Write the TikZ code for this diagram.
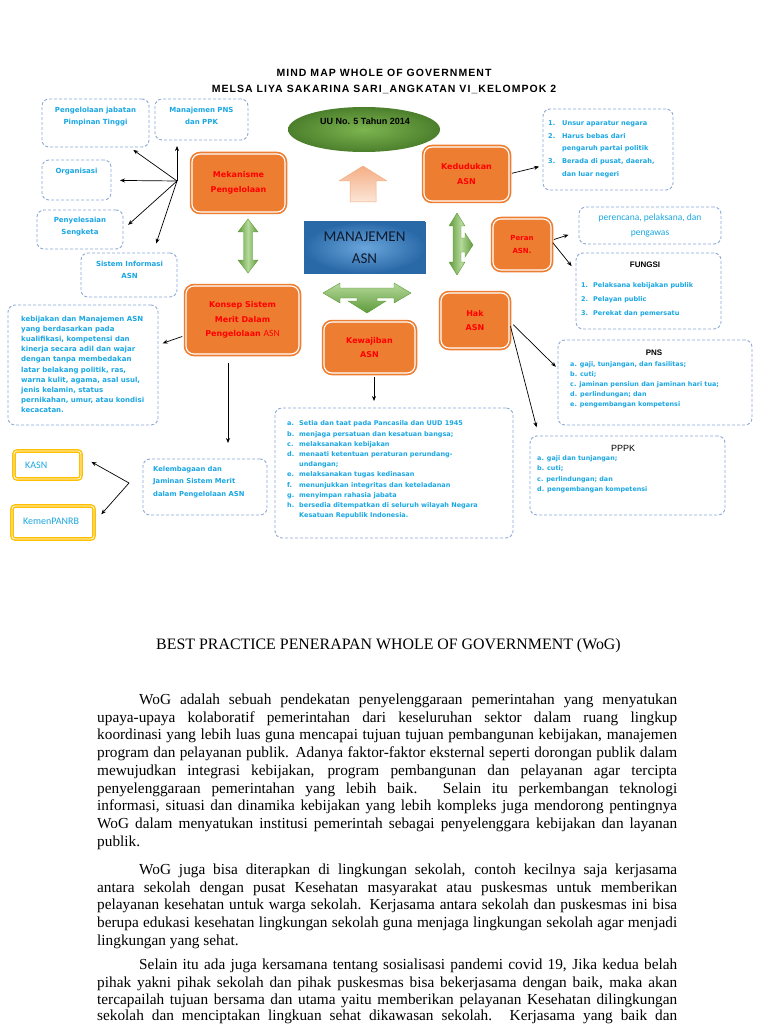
\documentclass[tikz,border=0pt]{standalone}
\usepackage{fontspec}
\setmainfont{Liberation Serif}
\newfontfamily\djv{DejaVu Sans}
\newfontfamily\ars{Liberation Sans}
\newfontfamily\ttlf[LetterSpace=10]{Liberation Sans}
\newfontfamily\calb{Carlito}
\usetikzlibrary{arrows.meta,calc,shapes.geometric}
\definecolor{cyanT}{HTML}{1AA7E3}
\definecolor{dashB}{HTML}{8EA9D8}
\definecolor{orF}{HTML}{ED7D31}
\definecolor{grOut}{HTML}{4C7F2C}
\definecolor{grIn}{HTML}{7DB550}
\definecolor{blOut}{HTML}{2A69A8}
\definecolor{blIn}{HTML}{6AA6DC}
\definecolor{navyT}{HTML}{0F1A2E}
\definecolor{garD}{HTML}{5E9A3A}
\definecolor{garL}{HTML}{B5D99A}
\definecolor{peachT}{HTML}{F4AE84}
\definecolor{peachB}{HTML}{FCE6D8}
\definecolor{yelB}{HTML}{FFC000}
\newcommand\jl[2][580pt]{\makebox[#1][s]{#2}}
\begin{document}
\begin{tikzpicture}[x=1pt,y=-1pt,
  dbox/.style={draw=dashB, dash pattern=on 3pt off 2pt, line width=0.9pt, rounded corners=7pt, fill=white, inner sep=0pt, outer sep=0pt},
  obox/.style={draw=orF, double=white, double distance=1.1pt, line width=1.7pt, fill=orF, rounded corners=8pt, inner sep=0pt, outer sep=0pt, text=red, align=center, font=\djv\bfseries\fontsize{8}{14.5}\selectfont},
  ybox/.style={draw=yelB, double=white, double distance=0.8pt, line width=1.4pt, rounded corners=3pt, fill=white, inner sep=0pt, outer sep=0pt},
  ctxt/.style={text=cyanT, align=center, inner sep=0pt, font=\djv\bfseries\fontsize{7}{12}\selectfont},
  ltxt/.style={text=cyanT, align=left, inner sep=0pt, anchor=north west},
  htxt/.style={text=black, inner sep=0pt, font=\ars\bfseries\fontsize{8}{10}\selectfont},
  conn/.style={-{Stealth[length=5pt,width=4pt]}, line width=0.7pt, black},
  gar/.style={draw=garD, line width=0.4pt, left color=garD, right color=garD, middle color=garL},
  body/.style={anchor=base west, inner sep=0pt, font=\fontsize{15.3}{17.7}\selectfont}
]
\useasboundingbox (0,0) rectangle (768,1024);
\fill[white] (0,0) rectangle (768,1024);

% ---------- titles
\node[inner sep=0pt, font=\ttlf\bfseries\fontsize{10.5}{12}\selectfont] (t1) at (384,73) {MIND MAP WHOLE OF GOVERNMENT};
\node[inner sep=0pt, font=\ttlf\bfseries\fontsize{10.5}{12}\selectfont] (t2) at (384,89) {MELSA LIYA SAKARINA SARI\_ANGKATAN VI\_KELOMPOK 2};

% ---------- centre
\node[ellipse, minimum width=152, minimum height=45, inner sep=0pt, inner color=grIn, outer color=grOut] (uu) at (364,129.5) {};
\node[htxt, font=\ars\bfseries\fontsize{9}{11}\selectfont] (uut) at (365,121) {UU No. 5 Tahun 2014};
\node[rectangle, minimum width=121, minimum height=51, inner sep=0pt, draw=blOut, line width=0.5pt, inner color=blIn, outer color=blOut, text=navyT, align=center, font=\calb\fontsize{15}{22}\selectfont] (man) at (364.5,247.5) {MANAJEMEN\\ASN};

% block arrows
\path[draw=peachT, line width=0.5pt, top color=peachT, bottom color=peachB]
  (363,166) -- (387,181) -- (376,181) -- (376,202) -- (350,202) -- (350,181) -- (339,181) -- cycle;
\path[gar] (248,219) -- (258,232) -- (252.5,232) -- (252.5,260) -- (258,260) -- (248,273) -- (238,260) -- (243.5,260) -- (243.5,232) -- (238,232) -- cycle;
\path[gar] (457,213) -- (465,226) -- (461,226) -- (461,238) -- (465,238) -- (465,233) -- (473,245) -- (465,257) -- (465,252) -- (461,252) -- (461,262) -- (465,262) -- (457,275) -- (449,262) -- (453,262) -- (453,226) -- (449,226) -- cycle;
\path[draw=garD, line width=0.4pt, top color=garL, bottom color=garD]
  (323,293) -- (340,283) -- (340,288) -- (394,288) -- (394,283) -- (411,293) -- (394,303) -- (394,298) -- (377,298) -- (377,301) -- (386,301) -- (367,313) -- (348,301) -- (357,301) -- (357,298) -- (340,298) -- (340,303) -- cycle;

% ---------- orange boxes
\node[obox, minimum width=93, minimum height=58] (mek) at (238.5,183) {Mekanisme\\Pengelolaan};
\node[obox, minimum width=85, minimum height=54] (ked) at (466.5,174) {Kedudukan\\ASN};
\node[obox, minimum width=58, minimum height=51, font=\djv\bfseries\fontsize{7}{13}\selectfont] (peran) at (522,244.5) {Peran\\ASN.};
\node[obox, minimum width=113, minimum height=68] (kon) at (242.5,320) {Konsep Sistem\\Merit Dalam\\Pengelolaan {\calb\mdseries\fontsize{9.5}{14.5}\selectfont ASN}};
\node[obox, minimum width=91, minimum height=51] (kew) at (369.5,347.5) {Kewajiban\\ASN};
\node[obox, minimum width=68, minimum height=55] (hak) at (475,320.5) {Hak\\ASN};

% ---------- left dashed boxes
\node[dbox, minimum width=107, minimum height=48] (b1) at (95.5,123) {};
\node[ctxt] (b1t) at (95.5,117) {Pengelolaan jabatan\\Pimpinan Tinggi};
\node[dbox, minimum width=93, minimum height=41] (b2) at (201.5,119.5) {};
\node[ctxt] (b2t) at (201.5,116) {Manajemen PNS\\dan PPK};
\node[dbox, minimum width=69, minimum height=40] (org) at (76.5,180) {};
\node[ctxt] (orgt) at (76.5,172) {Organisasi};
\node[dbox, minimum width=86, minimum height=39] (peny) at (80,229.5) {};
\node[ctxt] (penyt) at (80,227) {Penyelesaian\\Sengketa};
\node[dbox, minimum width=96, minimum height=44] (sis) at (129,275) {};
\node[ctxt] (sist) at (129.5,269.5) {Sistem Informasi\\ASN};

\node[dbox, minimum width=150, minimum height=120] (merit) at (83,365) {};
\node[ltxt, font=\djv\bfseries\fontsize{7}{10.2}\selectfont] (meritt) at (21,315.5) {kebijakan dan Manajemen ASN\\yang berdasarkan pada\\kualifikasi, kompetensi dan\\kinerja secara adil dan wajar\\dengan tanpa membedakan\\latar belakang politik, ras,\\warna kulit, agama, asal usul,\\jenis kelamin, status\\pernikahan, umur, atau kondisi\\kecacatan.};

\node[dbox, minimum width=124, minimum height=56] (kel) at (205,487) {};
\node[ltxt, font=\djv\bfseries\fontsize{6.8}{12.5}\selectfont] (kelt) at (153,466) {Kelembagaan dan\\Jaminan Sistem Merit\\dalam Pengelolaan ASN};

\node[ybox, minimum width=67, minimum height=28] (kasn) at (47.5,465) {};
\node[inner sep=0pt, anchor=west, text=cyanT, font=\calb\fontsize{10}{12}\selectfont] (kasnt) at (25,465) {KASN};
\node[ybox, minimum width=82, minimum height=33] (kemen) at (53,522.5) {};
\node[inner sep=0pt, anchor=west, text=cyanT, font=\calb\fontsize{10}{12}\selectfont] (kement) at (23,521) {KemenPANRB};

% ---------- kewajiban list
\node[dbox, minimum width=238, minimum height=130] (kwlist) at (394,473) {};
\node[ltxt, font=\djv\bfseries\fontsize{6.5}{10.2}\selectfont] (kwlistt) at (287,418.5) {%
\begin{tabular}{@{}p{12pt}@{}l@{}}
a. & Setia dan taat pada Pancasila dan UUD 1945\\
b. & menjaga persatuan dan kesatuan bangsa;\\
c. & melaksanakan kebijakan\\
d. & menaati ketentuan peraturan perundang-\\
   & undangan;\\
e. & melaksanakan tugas kedinasan\\
f. & menunjukkan integritas dan keteladanan\\
g. & menyimpan rahasia jabata\\
h. & bersedia ditempatkan di seluruh wilayah Negara\\
   & Kesatuan Republik Indonesia.
\end{tabular}};

% ---------- right side
\node[dbox, minimum width=130, minimum height=81] (klist) at (608,149.5) {};
\node[ltxt, font=\djv\bfseries\fontsize{6.6}{12.7}\selectfont] (klistt) at (548,116.5) {%
\begin{tabular}{@{}p{14pt}@{}l@{}}
1. & Unsur aparatur negara\\
2. & Harus bebas dari\\
   & pengaruh partai politik\\
3. & Berada di pusat, daerah,\\
   & dan luar negeri
\end{tabular}};

\node[dbox, minimum width=142, minimum height=37] (pbox) at (650,225.5) {};
\node[inner sep=0pt, align=center, text=cyanT, font=\calb\fontsize{9.5}{15}\selectfont] (pboxt) at (650,225.5) {perencana, pelaksana, dan\\pengawas};

\node[dbox, minimum width=145, minimum height=76] (fungsi) at (648.5,291) {};
\node[htxt] (fungsit) at (645,264.5) {FUNGSI};
\node[ltxt, font=\djv\bfseries\fontsize{6.5}{14}\selectfont] (fungsil) at (581,277.5) {%
\begin{tabular}{@{}p{12pt}@{}l@{}}
1. & Pelaksana kebijakan publik\\
2. & Pelayan public\\
3. & Perekat dan pemersatu
\end{tabular}};

\node[dbox, minimum width=194, minimum height=85] (pns) at (655,382.5) {};
\node[htxt] (pnst) at (654,353) {PNS};
\node[ltxt, font=\djv\bfseries\fontsize{6.4}{10}\selectfont] (pnsl) at (570,361) {a. gaji, tunjangan, dan fasilitas;\\b. cuti;\\c. jaminan pensiun dan jaminan hari tua;\\d. perlindungan; dan\\e. pengembangan kompetensi};

\node[dbox, minimum width=195, minimum height=79] (pppk) at (627.5,475.5) {};
\node[htxt, font=\ars\fontsize{9}{11}\selectfont] (pppkt) at (623,448) {PPPK};
\node[ltxt, font=\djv\bfseries\fontsize{6.4}{10.4}\selectfont] (pppkl) at (537,455.5) {a. gaji dan tunjangan;\\b. cuti;\\c. perlindungan; dan\\d. pengembangan kompetensi};

% ---------- connectors
\coordinate (fan) at (177,181);
\draw[conn, shorten >=5pt] (fan) -- (b1);
\draw[conn, shorten >=6pt] (fan) -- (fan |- b2.south);
\draw[conn, shorten >=9pt] (fan) -- (org);
\draw[conn, shorten >=7pt] (fan) -- (peny.east);
\draw[conn, shorten >=10pt] (fan) -- ($(sis.north)!0.5!(sis.north east)$);

\draw[conn, shorten <=3pt, shorten >=4pt] (ked.east) -- (klist.194);
\draw[conn, shorten <=3pt, shorten >=11pt] (peran.8) -- ($(pbox.west)+(0,6)$);
\draw[conn, shorten <=3pt, shorten >=7pt] (peran.8) -- (fungsi.165);
\draw[conn, shorten <=6pt, shorten >=3pt] (hak.east) -- (pns.172);
\draw[conn, shorten <=6pt, shorten >=9pt] (hak.east) -- (pppk.156);
\draw[conn, shorten <=4pt, shorten >=7pt] ([xshift=4.5pt]kew.south) -- ([xshift=4.5pt]kew.south |- kwlist.north);
\draw[conn, shorten <=4pt, shorten >=5pt] (kon.195) -- (merit.15);
\draw[conn, shorten <=9pt, shorten >=16pt] ([xshift=-14.5pt]kon.south) -- ([xshift=-14.5pt]kon.south |- kel.north);
\coordinate (kfork) at ($(kel.west)+(-14,-4)$);
\draw[conn, shorten >=12pt] (kfork) -- (kasn.15);
\draw[conn, shorten >=11pt] (kfork) -- (kemen.east);

% ---------- document text
\node[inner sep=0pt, font=\fontsize{15.9}{18}\selectfont] (bp) at (388.5,646) {BEST PRACTICE PENERAPAN WHOLE OF GOVERNMENT (WoG)};

\node[body] (p1a) at (139,704.5) {\jl[538pt]{WoG adalah sebuah pendekatan penyelenggaraan pemerintahan yang menyatukan}};
\node[body] (p1b) at (97,722.2) {\jl{upaya-upaya kolaboratif pemerintahan dari keseluruhan sektor dalam ruang lingkup}};
\node[body] (p1c) at (97,739.9) {\jl{koordinasi yang lebih luas guna mencapai tujuan tujuan pembangunan kebijakan, manajemen}};
\node[body] (p1d) at (97,757.6) {\jl{program dan pelayanan publik. Adanya faktor-faktor eksternal seperti dorongan publik dalam}};
\node[body] (p1e) at (97,775.3) {\jl{mewujudkan integrasi kebijakan, program pembangunan dan pelayanan agar tercipta}};
\node[body] (p1f) at (97,793) {\jl{penyelenggaraan pemerintahan yang lebih baik. Selain itu perkembangan teknologi}};
\node[body] (p1g) at (97,810.7) {\jl{informasi, situasi dan dinamika kebijakan yang lebih kompleks juga mendorong pentingnya}};
\node[body] (p1h) at (97,828.4) {\jl{WoG dalam menyatukan institusi pemerintah sebagai penyelenggara kebijakan dan layanan}};
\node[body] (p1i) at (97,846.1) {publik.};

\node[body] (p2a) at (139,874.5) {\jl[538pt]{WoG juga bisa diterapkan di lingkungan sekolah, contoh kecilnya saja kerjasama}};
\node[body] (p2b) at (97,892.2) {\jl{antara sekolah dengan pusat Kesehatan masyarakat atau puskesmas untuk memberikan}};
\node[body] (p2c) at (97,909.9) {\jl{pelayanan kesehatan untuk warga sekolah. Kerjasama antara sekolah dan puskesmas ini bisa}};
\node[body] (p2d) at (97,927.6) {\jl{berupa edukasi kesehatan lingkungan sekolah guna menjaga lingkungan sekolah agar menjadi}};
\node[body] (p2e) at (97,945.3) {lingkungan yang sehat.};

\node[body] (p3a) at (139,969.5) {\jl[538pt]{Selain itu ada juga kersamana tentang sosialisasi pandemi covid 19, Jika kedua belah}};
\node[body] (p3b) at (97,987) {\jl{pihak yakni pihak sekolah dan pihak puskesmas bisa bekerjasama dengan baik, maka akan}};
\node[body] (p3c) at (97,1004.5) {\jl{tercapailah tujuan bersama dan utama yaitu memberikan pelayanan Kesehatan dilingkungan}};
\node[body] (p3d) at (97,1020) {\jl{sekolah dan menciptakan lingkuan sehat dikawasan sekolah. Kerjasama yang baik dan}};
\end{tikzpicture}
\end{document}
